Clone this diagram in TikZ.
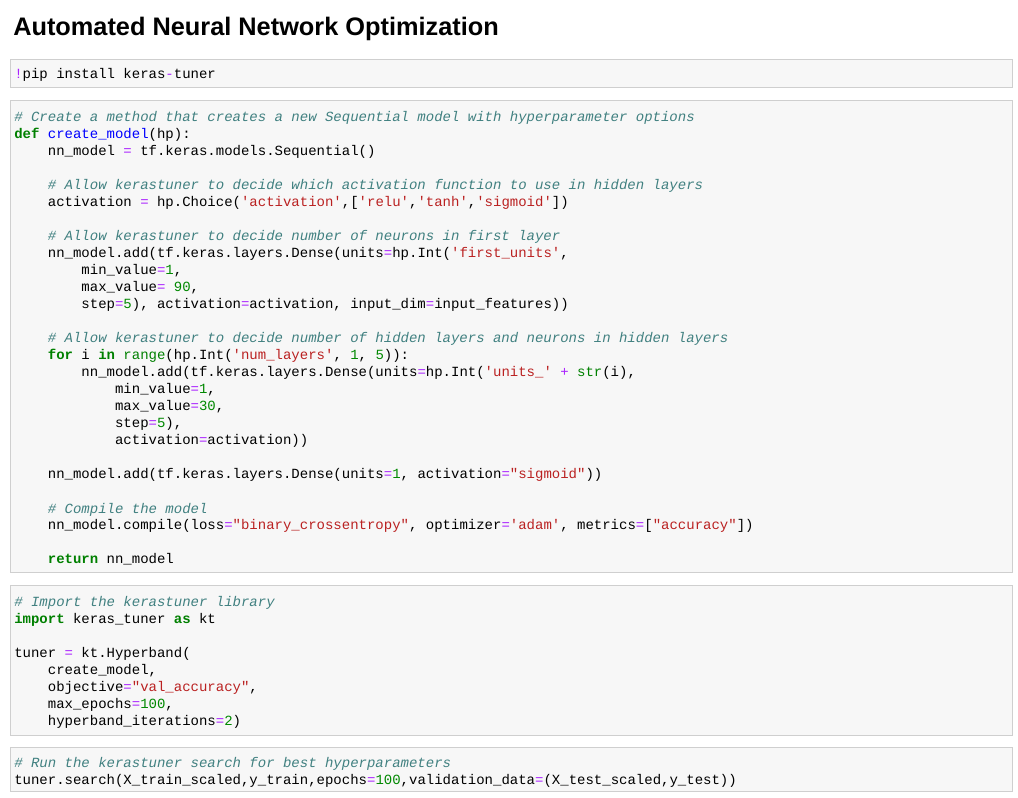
\documentclass[tikz,border=0pt]{standalone}
\usepackage{fontspec}
\setmainfont{Liberation Sans}
\setmonofont{Liberation Mono}
\definecolor{cK}{HTML}{008000}
\definecolor{cF}{HTML}{0000FF}
\definecolor{cS}{HTML}{BA2121}
\definecolor{cN}{HTML}{008800}
\definecolor{cO}{HTML}{AA22FF}
\definecolor{cC}{HTML}{408080}
\definecolor{boxfill}{HTML}{F7F7F7}
\definecolor{boxline}{HTML}{CFCFCF}
\newcommand{\K}[1]{\textcolor{cK}{\bfseries #1}}
\newcommand{\B}[1]{\textcolor{cK}{#1}}
\newcommand{\F}[1]{\textcolor{cF}{#1}}
\newcommand{\Sq}[1]{\textcolor{cS}{#1}}
\newcommand{\Nm}[1]{\textcolor{cN}{#1}}
\newcommand{\Op}[1]{\textcolor{cO}{#1}}
\newcommand{\Cm}[1]{\textcolor{cC}{\itshape #1}}
\newcounter{ln}
\newcommand{\Ln}[3]{\stepcounter{ln}\node[codeline] (ln\arabic{ln}) at ({14+8.4*#1},{#2+5}) {#3};}
\begin{document}
\begin{tikzpicture}[x={(0.75pt,0)},y={(0,-0.75pt)},
  codeline/.style={anchor=base west,inner sep=0pt,font=\ttfamily\fontsize{10.5pt}{12pt}\selectfont},
  cell/.style={fill=boxfill,draw=boxline,line width=0.75pt}]
\useasboundingbox (0,0) rectangle (1018,798);
\node[anchor=base west,inner sep=0pt,font=\bfseries\fontsize{19pt}{22pt}\selectfont] (title) at (13,36) {Automated Neural Network Optimization};
\draw[cell] (10,60) rectangle (1012,88) node[coordinate] (b1) {};
\draw[cell] (10,101) rectangle (1012,572) node[coordinate] (b2) {};
\draw[cell] (10,585) rectangle (1012,735) node[coordinate] (b3) {};
\draw[cell] (10,747) rectangle (1012,791) node[coordinate] (b4) {};
\Ln{0}{74}{\Op{!}pip install keras\Op{-}tuner}
\Ln{0}{117}{\Cm{\# Create a method that creates a new Sequential model with hyperparameter options}}
\Ln{0}{134}{\K{def} \F{create\_model}(hp):}
\Ln{4}{151}{nn\_model \Op{=} tf.keras.models.Sequential()}
\Ln{4}{185}{\Cm{\# Allow kerastuner to decide which activation function to use in hidden layers}}
\Ln{4}{202}{activation \Op{=} hp.Choice(\Sq{'activation'},[\Sq{'relu'},\Sq{'tanh'},\Sq{'sigmoid'}])}
\Ln{4}{236}{\Cm{\# Allow kerastuner to decide number of neurons in first layer}}
\Ln{4}{253}{nn\_model.add(tf.keras.layers.Dense(units\Op{=}hp.Int(\Sq{'first\_units'},}
\Ln{8}{270}{min\_value\Op{=}\Nm{1},}
\Ln{8}{287}{max\_value\Op{=} \Nm{90},}
\Ln{8}{304}{step\Op{=}\Nm{5}), activation\Op{=}activation, input\_dim\Op{=}input\_features))}
\Ln{4}{338}{\Cm{\# Allow kerastuner to decide number of hidden layers and neurons in hidden layers}}
\Ln{4}{355}{\K{for} i \K{in} \B{range}(hp.Int(\Sq{'num\_layers'}, \Nm{1}, \Nm{5})):}
\Ln{8}{372}{nn\_model.add(tf.keras.layers.Dense(units\Op{=}hp.Int(\Sq{'units\_'} \Op{+} \B{str}(i),}
\Ln{12}{389}{min\_value\Op{=}\Nm{1},}
\Ln{12}{406}{max\_value\Op{=}\Nm{30},}
\Ln{12}{423}{step\Op{=}\Nm{5}),}
\Ln{12}{440}{activation\Op{=}activation))}
\Ln{4}{474}{nn\_model.add(tf.keras.layers.Dense(units\Op{=}\Nm{1}, activation\Op{=}\Sq{"sigmoid"}))}
\Ln{4}{508}{\Cm{\# Compile the model}}
\Ln{4}{525}{nn\_model.compile(loss\Op{=}\Sq{"binary\_crossentropy"}, optimizer\Op{=}\Sq{'adam'}, metrics\Op{=}[\Sq{"accuracy"}])}
\Ln{4}{559}{\K{return} nn\_model}
\Ln{0}{601}{\Cm{\# Import the kerastuner library}}
\Ln{0}{618}{\K{import} keras\_tuner \K{as} kt}
\Ln{0}{652}{tuner \Op{=} kt.Hyperband(}
\Ln{4}{669}{create\_model,}
\Ln{4}{686}{objective\Op{=}\Sq{"val\_accuracy"},}
\Ln{4}{703}{max\_epochs\Op{=}\Nm{100},}
\Ln{4}{720}{hyperband\_iterations\Op{=}\Nm{2})}
\Ln{0}{762}{\Cm{\# Run the kerastuner search for best hyperparameters}}
\Ln{0}{779}{tuner.search(X\_train\_scaled,y\_train,epochs\Op{=}\Nm{100},validation\_data\Op{=}(X\_test\_scaled,y\_test))}
\end{tikzpicture}
\end{document}
